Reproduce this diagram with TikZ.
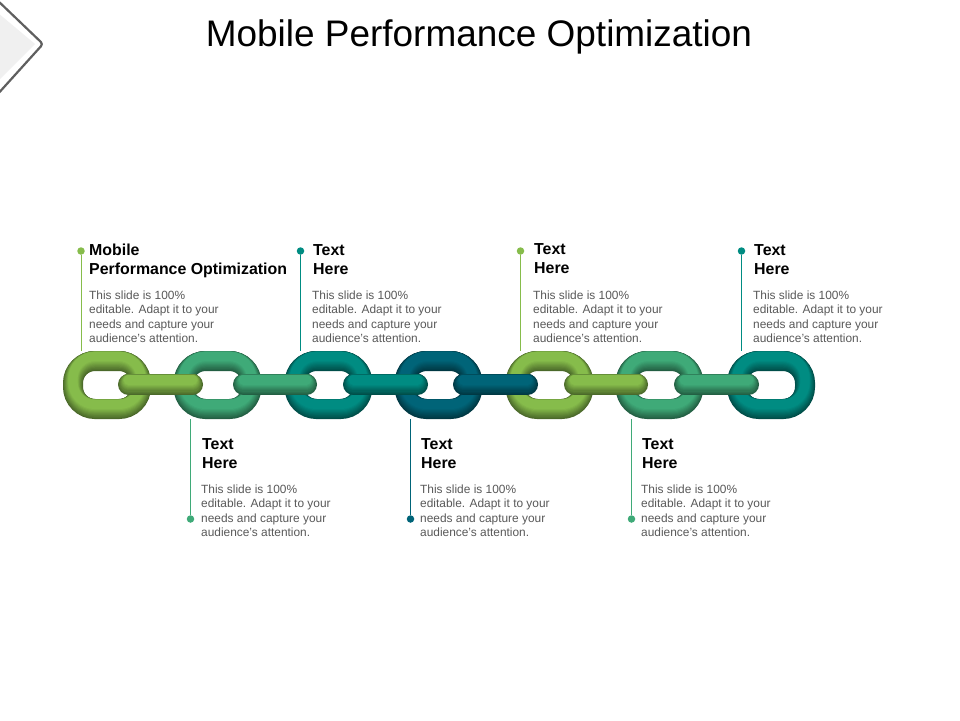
\documentclass[tikz,border=0pt]{standalone}
\usepackage{fontspec}
\setmainfont{Liberation Sans}
\definecolor{cgreen}{HTML}{86BC4B}
\definecolor{cmid}{HTML}{3FAA78}
\definecolor{cteal}{HTML}{008C82}
\definecolor{cdark}{HTML}{006478}
\definecolor{cornerline}{HTML}{5F5F5F}
\definecolor{cornerfill}{HTML}{F0F0F0}
\definecolor{bodygrey}{HTML}{595959}
\newcommand{\shadecolor}[2]{% #1 base, #2 layer index 0..15
  \pgfmathtruncatemacro{\shadepct}{min(100,56+#2*5)}%
  \colorlet{layercol}{#1!\shadepct!black}%
}
\newcommand{\chainlink}[3]{% name, cx, colour
  \node[linkbox] (#1) at (#2,385) {};
  \foreach \i in {0,...,15}{
    \shadecolor{#3}{\i}
    \pgfmathsetmacro{\w}{20-\i*1.2}
    \pgfmathsetmacro{\up}{(20-\w)*0.42}
    \draw[draw=layercol,line width=\w pt,rounded corners=22pt,yshift=\up pt]
      (#2-34,361) rectangle (#2+34,409);
  }
}
\newcommand{\chainbar}[4]{% name, x1, x2, colour
  \pgfmathsetmacro{\xa}{#2+10.5}
  \pgfmathsetmacro{\xb}{#3-10.5}
  \node[barbox,minimum width={(#3-#2)*1pt}] (#1) at ({(#2+#3)/2},384.5) {};
  \foreach \i in {0,...,15}{
    \shadecolor{#4}{\i}
    \pgfmathsetmacro{\w}{21-\i*1.26}
    \pgfmathsetmacro{\up}{(21-\w)*0.42}
    \draw[draw=layercol,line width=\w pt,line cap=round,yshift=\up pt]
      (\xa,384.5) -- (\xb,384.5);
  }
}
\tikzset{
  x=1pt,y=-1pt,
  linkbox/.style={minimum width=88pt,minimum height=68pt,inner sep=0pt,draw=none},
  barbox/.style={minimum height=21pt,inner sep=0pt,draw=none},
  dotmark/.style={circle,inner sep=0pt,minimum size=7.5pt,fill=#1},
  leader/.style={line width=0.8pt,draw=#1},
  headtext/.style={anchor=north west,inner sep=0pt,align=left,font=\fontsize{15.9}{19}\selectfont\bfseries,text=black},
  bodytext/.style={anchor=north west,inner sep=0pt,align=left,font=\fontsize{11.9}{14.4}\selectfont,text=bodygrey},
  titletext/.style={anchor=center,inner sep=0pt,font=\fontsize{36.95}{40}\selectfont,text=black},
}
\newcommand{\bodytxt}{This slide is 100\%\\editable. Adapt it to your\\needs and capture your\\audience's attention.}
\begin{document}
\begin{tikzpicture}
\useasboundingbox (0,0) rectangle (960,720);
\fill[white] (0,0) rectangle (960,720);
% corner tab
\begin{scope}
\clip (0,0) rectangle (960,720);
\fill[cornerfill] (-2,13) -- (35,44) -- (-2,81) -- cycle;
\draw[cornerline,line width=2.2pt,rounded corners=3pt] (-4,-1) -- (43,44) -- (-4,96);
\end{scope}
\node[titletext] (title) at (479,36.5) {Mobile Performance Optimization};
% chain
\chainlink{L1}{107}{cgreen}
\chainlink{L2}{217.5}{cmid}
\chainlink{L3}{328.5}{cteal}
\chainlink{L4}{438.5}{cdark}
\chainlink{L5}{549.5}{cgreen}
\chainlink{L6}{659.5}{cmid}
\chainlink{L7}{771}{cteal}
\chainbar{B1}{118}{203}{cgreen}
\chainbar{B2}{233}{317}{cmid}
\chainbar{B3}{343}{428}{cteal}
\chainbar{B4}{453}{538}{cdark}
\chainbar{B5}{564}{648}{cgreen}
\chainbar{B6}{674}{759}{cmid}
% markers
\node[dotmark=cgreen] (d1) at (81,251) {};
\node[dotmark=cteal] (d3) at (300.5,251) {};
\node[dotmark=cgreen] (d5) at (520.5,251) {};
\node[dotmark=cteal] (d7) at (741.5,251) {};
\node[dotmark=cmid] (d2) at (190.5,519) {};
\node[dotmark=cdark] (d4) at (410.5,519) {};
\node[dotmark=cmid] (d6) at (631.5,519) {};
\draw[leader=cgreen] (d1) -- (d1 |- L1.north);
\draw[leader=cteal] (d3) -- (d3 |- L3.north);
\draw[leader=cgreen] (d5) -- (d5 |- L5.north);
\draw[leader=cteal] (d7) -- (d7 |- L7.north);
\draw[leader=cmid] (d2) -- (d2 |- L2.south);
\draw[leader=cdark] (d4) -- (d4 |- L4.south);
\draw[leader=cmid] (d6) -- (d6 |- L6.south);
% texts
\node[headtext] (h1) at (89,244) {Mobile\\Performance Optimization};
\node[bodytext] (t1) at (89,290.5) {\bodytxt};
\node[headtext] (h3) at (313,244) {Text\\Here};
\node[bodytext] (t3) at (312,290.5) {\bodytxt};
\node[headtext] (h5) at (534,243) {Text\\Here};
\node[bodytext] (t5) at (533,290.5) {\bodytxt};
\node[headtext] (h7) at (754,244) {Text\\Here};
\node[bodytext] (t7) at (753,290.5) {\bodytxt};
\node[headtext] (h2) at (202,438) {Text\\Here};
\node[bodytext] (t2) at (201,484.5) {\bodytxt};
\node[headtext] (h4) at (421,438) {Text\\Here};
\node[bodytext] (t4) at (420,484.5) {\bodytxt};
\node[headtext] (h6) at (642,438) {Text\\Here};
\node[bodytext] (t6) at (641,484.5) {\bodytxt};
\end{tikzpicture}
\end{document}
